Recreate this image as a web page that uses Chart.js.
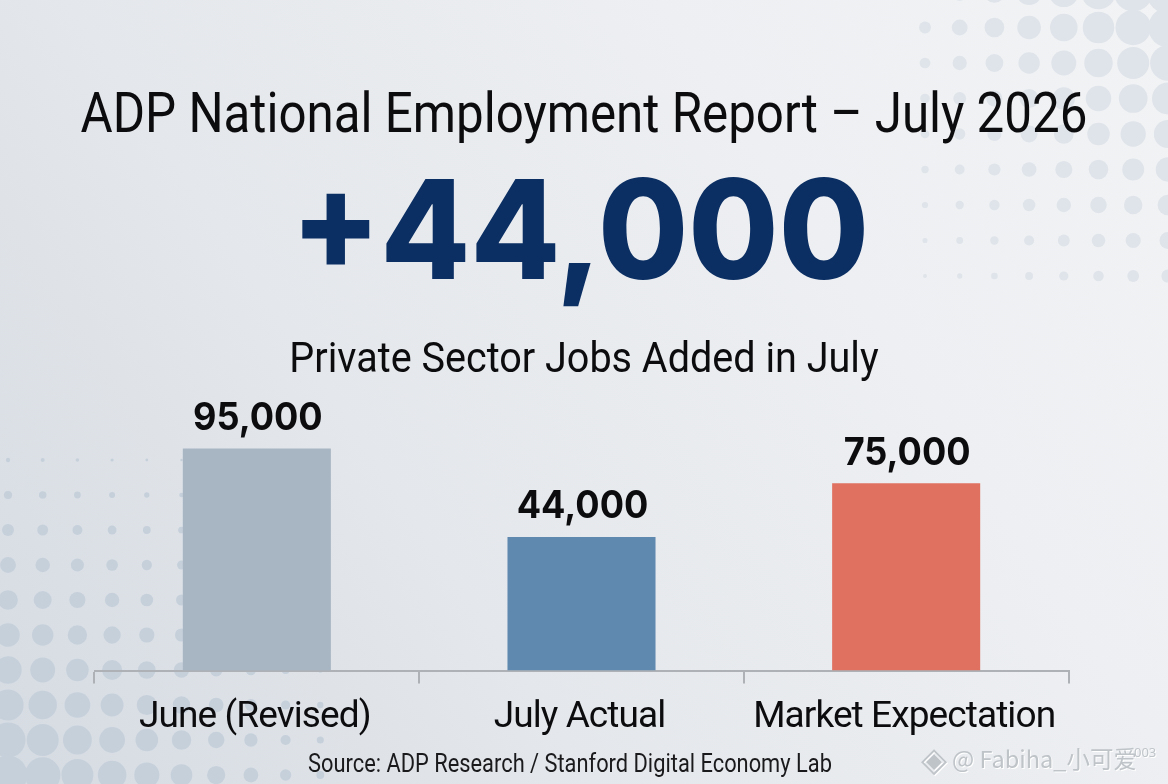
<!DOCTYPE html>
<html><head><meta charset="utf-8">
<script src="https://cdn.jsdelivr.net/npm/chart.js@4"></script>
<style>html,body{margin:0;padding:0;background:#e9ecef}#w{position:relative;width:1168px;height:784px;overflow:hidden}canvas{display:block}</style>
</head><body><div id="w"><canvas id="c" width="1168" height="784"></canvas></div>
<script>
const categories = ["June (Revised)", "July Actual", "Market Expectation"];
const jobs = [95000, 44000, 75000];
const barColors = ["#a8b5c3", "#6089b0", "#e07060"];
const titleText = "ADP National Employment Report – July 2026";
const headline = "+44,000";
const subtitleText = "Private Sector Jobs Added in July";
const sourceText = "Source: ADP Research / Stanford Digital Economy Lab";
const watermark = "@ Fabiha_小可爱";
const FACE = 'Roboto,sans-serif';

function squeezed(g,text,cx,y,sx){ g.save(); g.translate(cx,y); g.scale(sx,1); g.fillText(text,0,0); g.restore(); }

const backdrop = { id:'backdrop', beforeDraw(ch){
  const g = ch.ctx, W = ch.width, H = ch.height;
  g.save();
  const bg = g.createLinearGradient(0,H,W,0);
  bg.addColorStop(0,'#d5dbe2'); bg.addColorStop(.35,'#e4e7eb'); bg.addColorStop(.7,'#edeff2'); bg.addColorStop(1,'#f2f3f5');
  g.fillStyle = bg; g.fillRect(0,0,W,H);
  g.fillStyle = '#c6d0db';
  for(let j=0;j<10;j++){ const y = 460+j*35;
    for(let i=0;i<10;i++){ const x = 8+i*34.7;
      const r = Math.max(0,(y-420)/322*18*(1-x/400));
      if(r>.6){ g.beginPath(); g.arc(x,y,r,0,7); g.fill(); } } }
  g.fillStyle = '#dfe4ea';
  for(let j=0;j<9;j++){ const y = -8+j*35.5;
    for(let i=0;i<8;i++){ const x = 925+i*34.7;
      const r = 19*((x-820)/313)*(1-y/400);
      if(r>.6 && y<300){ g.beginPath(); g.arc(x,y,r,0,7); g.fill(); } } }
  g.restore();
  g.letterSpacing='-0.9px';
}};

const texts = { id:'texts', afterDraw(ch){
  const g = ch.ctx; g.save();
  g.letterSpacing='0px';
  g.textAlign='center'; g.textBaseline='alphabetic';
  g.fillStyle='#0c0c0e'; g.font='56px '+FACE; squeezed(g,titleText,584,132,.88);
  g.fillStyle='#0b2f63'; g.font='800 138px Inter,"Liberation Sans"';
  squeezed(g,headline,580,279,578/g.measureText(headline).width);
  g.fillStyle='#0c0c0e'; g.font='42px '+FACE; squeezed(g,subtitleText,584,372,.942);
  g.font='26px '+FACE; g.fillStyle='#1a1a1c'; squeezed(g,sourceText,570,772,.84);
  const m = ch.getDatasetMeta(0);
  g.font='700 38px Inter,"Liberation Sans"'; g.fillStyle='#0c0c0e'; g.textBaseline='middle';
  m.data.forEach((b,i)=>squeezed(g,jobs[i].toLocaleString('en-US'),b.x+1,b.y-30,.95));
  g.textBaseline='alphabetic'; g.textAlign='left';
  g.fillStyle='#bfc4c9'; g.shadowColor='#ffffff'; g.shadowOffsetX=1; g.shadowOffsetY=1; g.shadowBlur=0;
  g.font='23.5px "Noto Sans CJK SC"'; g.fillText(watermark,952,768);
  g.font='13px "Noto Sans"'; g.fillText('003',1134,757);
  g.font='34px "DejaVu Sans"'; g.fillText('◈',921,771);
  g.restore();
}};

new Chart(document.getElementById('c'),{
  type:'bar',
  data:{labels:categories,datasets:[{data:jobs,backgroundColor:barColors,base:-33000,barPercentage:.456,categoryPercentage:1}]},
  plugins:[backdrop,texts],
  options:{responsive:false,animation:false,
    layout:{padding:{left:94.5,right:99.5,top:400,bottom:32}},
    plugins:{legend:{display:false},tooltip:{enabled:false},title:{display:false}},
    scales:{
      x:{offset:true,
        grid:{display:true,drawOnChartArea:false,drawTicks:true,tickLength:13,color:'#aeb2b6',lineWidth:2},
        border:{display:true,color:'#aeb2b6',width:2},
        ticks:{color:'#0c0c0e',font:{family:FACE,size:37},padding:12,labelOffset:-2,maxRotation:0,autoSkip:false}},
      y:{display:false,min:-33000,max:123000}
    }}
});
</script></body></html>
